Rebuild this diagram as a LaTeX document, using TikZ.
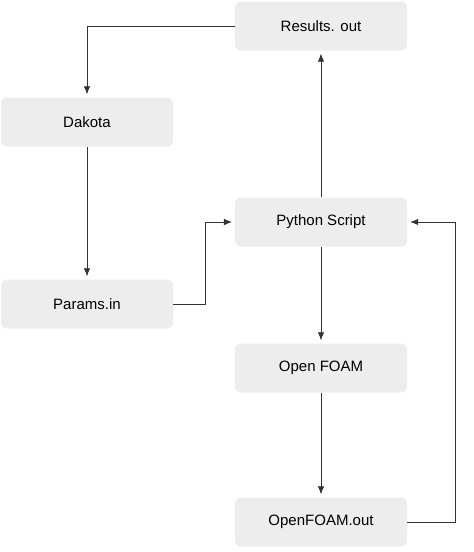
\documentclass[tikz,border=0pt]{standalone}
\usepackage{fontspec}
\setmainfont{Liberation Sans}
\usetikzlibrary{calc, positioning, arrows.meta}

\begin{document}
\begin{tikzpicture}[>={Latex[length=8pt, width=6.5pt]}, x=1pt, y=-1pt,
    hop/.style={fill=black!7, rounded corners=6pt, minimum width=172pt,
        minimum height=49pt, font=\fontsize{15}{18}\selectfont},
    noi/.style={->, line width=0.8pt, black!80, shorten >=3pt}]
    \useasboundingbox (0,0) rectangle (474,552);
    % Các khối
    \node[hop] (ketqua) at (321,26) {Results. out};
    \node[hop] (dakota) at (87,122) {Dakota};
    \node[hop] (python) at (321,222) {Python Script};
    \node[hop] (params) at (87,304) {Params.in};
    \node[hop] (foam) at (321,368) {Open FOAM};
    \node[hop] (foamout) at (321,522) {OpenFOAM.out};

    % Các mũi tên nối
    \draw[noi] (ketqua.west) -| (dakota.north);
    \draw[noi] (dakota) -- (params);
    \draw[noi, line width=0.4pt] (params.east) -- ++(32,0) |- (python.west);
    \draw[noi] (python) -- (ketqua);
    \draw[noi] (python) -- (foam);
    \draw[noi] (foam) -- (foamout);
    \draw[noi] (foamout.east) -- ++(48,0) |- (python.east);
\end{tikzpicture}
\end{document}
